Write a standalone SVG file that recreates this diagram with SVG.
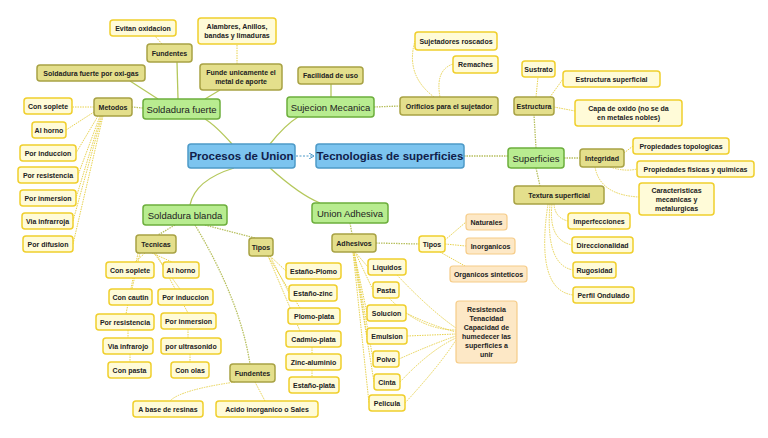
<svg xmlns="http://www.w3.org/2000/svg" width="768" height="438" viewBox="0 0 768 438">
<style>
text{font-family:"Liberation Sans",Arial,sans-serif;font-size:7px;font-weight:bold;fill:#222;text-anchor:middle}
.b rect{fill:#7cc4ef;stroke:#4d9ac8;stroke-width:1.5}
.b text{font-size:11.5px;fill:#10204a}
.g rect{fill:#b8ec90;stroke:#6cae3c;stroke-width:1.5}
.g text{font-size:9.5px;font-weight:normal}
.o rect{fill:#e4df8c;stroke:#a8a244;stroke-width:1.5}
.y rect{fill:#fffbd8;stroke:#f0cf2c;stroke-width:1.5}
.p rect{fill:#fde8c6;stroke:#f6cc88;stroke-width:1.2}
.c path{fill:none;stroke:#e8d24e;stroke-width:1;stroke-dasharray:1.5 1}
.c .s{stroke:#b5c85c;stroke-width:1.3;stroke-dasharray:none}
.c .d{stroke:#b8c060;stroke-width:1.3;stroke-dasharray:1.5 1}
.c .f{stroke:#4d9ac8;stroke-width:1;stroke-dasharray:2 1.5}
</style>
<defs><marker id="a" markerWidth="6" markerHeight="6" refX="5" refY="3" orient="auto"><path d="M0,0 L5,3 L0,6" fill="none" stroke="#4d9ac8"/></marker></defs>
<g class="c">
<path class="f" d="M296,156 L314,156" marker-end="url(#a)"/>
<path class="s" d="M232,144 Q215,125 205,119"/>
<path class="s" d="M270,144 Q285,125 298,117"/>
<path class="s" d="M234,168 Q195,180 190,205"/>
<path class="s" d="M270,168 Q300,195 320,203"/>
<path class="d" d="M464,156 L508,156"/>
<path class="s" d="M178,99 L177,62"/>
<path class="s" d="M158,99 L130,81"/>
<path class="s" d="M205,99 L220,90"/>
<path class="d" d="M143,108 L132,107"/>
<path d="M162,44 L155,36"/><path d="M237,64 L237,44"/>
<path d="M94,107 L72,107"/><path d="M94,112 L66,130"/><path d="M98,116 L76,153"/><path d="M100,116 L78,175"/><path d="M101,116 L76,198"/><path d="M102,116 L73,221"/><path d="M103,116 L73,244"/>
<path class="s" d="M331,97 L331,84"/>
<path class="d" d="M374,107 L400,106"/>
<path d="M434,97 Q405,75 415,41"/><path d="M440,97 Q435,70 453,64"/>
<path class="d" d="M536,148 L534,115"/><path class="d" d="M564,158 L580,158"/><path class="d" d="M536,168 L540,186"/>
<path d="M536,97 L538,77"/><path d="M550,97 L563,79"/><path d="M554,107 L575,111"/>
<path d="M624,153 L633,146"/><path d="M610,167 Q625,172 637,169"/><path d="M595,167 Q600,195 639,197"/>
<path d="M554,204 Q555,218 568,221"/><path d="M552,204 Q548,240 572,245"/><path d="M550,204 Q545,265 573,270"/><path d="M548,204 Q535,290 573,295"/>
<path class="d" d="M175,225 L158,235"/><path class="d" d="M205,225 L255,238"/><path class="d" d="M195,225 Q240,300 250,364"/>
<path d="M145,253 L135,262"/><path d="M152,253 L172,262"/><path d="M140,253 L132,289"/><path d="M154,253 L180,289"/><path d="M138,253 L126,314"/><path d="M156,253 L188,313"/><path d="M128,330 L128,338"/><path d="M188,329 L188,338"/><path d="M130,354 L130,362"/><path d="M190,354 L190,362"/>
<path d="M270,256 L286,271"/><path d="M270,256 L289,293"/><path d="M268,256 L300,308"/><path d="M268,256 L300,331"/><path d="M312,347 L312,354"/><path d="M312,370 L312,377"/>
<path d="M235,382 Q180,390 170,401"/><path d="M255,382 L265,401"/>
<path class="d" d="M350,223 L352,234"/><path class="d" d="M376,243 L419,244"/>
<path d="M445,240 L466,222"/><path d="M445,244 L466,246"/><path d="M440,252 L465,266"/>
<path d="M355,252 L368,267"/><path d="M355,252 L373,290"/><path d="M354,252 L367,313"/><path d="M354,252 L367,336"/><path d="M354,252 L373,359"/><path d="M353,252 L374,382"/><path d="M353,252 L369,403"/>
<path d="M397,275 Q430,310 456,328"/><path d="M389,298 Q420,330 456,330"/><path d="M406,313 Q430,325 456,332"/><path d="M407,336 L456,334"/><path d="M399,359 Q430,345 456,336"/><path d="M400,382 Q430,350 456,338"/><path d="M405,403 Q440,365 456,340"/>
</g>
<g class="b" id="procesos"><rect x="188" y="144" width="107" height="24" rx="3"/><text x="241.5" y="160">Procesos de Union</text></g>
<g class="b" id="tecnologias"><rect x="316" y="144" width="148" height="24" rx="3"/><text x="390" y="160">Tecnologias de superficies</text></g>
<g class="g" id="sfuerte"><rect x="143" y="99" width="77" height="20" rx="3"/><text x="181.5" y="112.5">Soldadura fuerte</text></g>
<g class="g" id="sujecion"><rect x="287" y="97" width="87" height="20" rx="3"/><text x="330.5" y="110.5">Sujecion Mecanica</text></g>
<g class="g" id="sblanda"><rect x="143" y="205" width="84" height="20" rx="3"/><text x="185" y="218.5">Soldadura blanda</text></g>
<g class="g" id="uadhesiva"><rect x="312" y="203" width="76" height="20" rx="3"/><text x="350" y="216.5">Union Adhesiva</text></g>
<g class="g" id="superficies"><rect x="508" y="148" width="56" height="20" rx="3"/><text x="536" y="161.5">Superficies</text></g>
<g class="o" id="o1"><rect x="147" y="44" width="45" height="18" rx="3"/><text x="169.5" y="55.5">Fundentes</text></g>
<g class="o" id="o2"><rect x="37" y="65" width="108" height="16" rx="3"/><text x="91" y="75.5">Soldadura fuerte por oxi-gas</text></g>
<g class="o" id="o3"><rect x="200" y="64" width="82" height="26" rx="3"/><text x="241" y="75">Funde unicamente el</text><text x="241" y="84">metal de aporte</text></g>
<g class="o" id="o4"><rect x="94" y="98" width="38" height="18" rx="3"/><text x="113" y="109.5">Metodos</text></g>
<g class="o" id="o5"><rect x="298" y="67" width="65" height="17" rx="3"/><text x="330.5" y="78">Facilidad de uso</text></g>
<g class="o" id="o6"><rect x="400" y="97" width="98" height="18" rx="3"/><text x="449" y="108.5">Orificios para el sujetador</text></g>
<g class="o" id="o7"><rect x="514" y="97" width="40" height="18" rx="3"/><text x="534" y="108.5">Estructura</text></g>
<g class="o" id="o8"><rect x="580" y="149" width="44" height="18" rx="3"/><text x="602" y="160.5">Integridad</text></g>
<g class="o" id="o9"><rect x="514" y="186" width="90" height="18" rx="3"/><text x="559" y="197.5">Textura superficial</text></g>
<g class="o" id="o10"><rect x="136" y="235" width="40" height="18" rx="3"/><text x="156" y="246.5">Tecnicas</text></g>
<g class="o" id="o11"><rect x="249" y="238" width="24" height="18" rx="3"/><text x="261" y="249.5">Tipos</text></g>
<g class="o" id="o12"><rect x="230" y="364" width="45" height="18" rx="3"/><text x="252.5" y="375.5">Fundentes</text></g>
<g class="o" id="o13"><rect x="332" y="234" width="44" height="18" rx="3"/><text x="354" y="245.5">Adhesivos</text></g>
<g class="y" id="y1"><rect x="110" y="20" width="66" height="16" rx="3"/><text x="143" y="30.5">Evitan oxidacion</text></g>
<g class="y" id="y2"><rect x="198" y="18" width="78" height="26" rx="3"/><text x="237" y="29">Alambres, Anillos,</text><text x="237" y="38">bandas y limaduras</text></g>
<g class="y" id="y3"><rect x="24" y="98" width="48" height="16" rx="3"/><text x="48" y="108.5">Con soplete</text></g>
<g class="y" id="y4"><rect x="32" y="122" width="34" height="16" rx="3"/><text x="49" y="132.5">Al horno</text></g>
<g class="y" id="y5"><rect x="20" y="145" width="56" height="16" rx="3"/><text x="48" y="155.5">Por induccion</text></g>
<g class="y" id="y6"><rect x="18" y="167" width="60" height="16" rx="3"/><text x="48" y="177.5">Por resistencia</text></g>
<g class="y" id="y7"><rect x="20" y="190" width="56" height="16" rx="3"/><text x="48" y="200.5">Por inmersion</text></g>
<g class="y" id="y8"><rect x="22" y="213" width="51" height="16" rx="3"/><text x="47.5" y="223.5">Via infrarroja</text></g>
<g class="y" id="y9"><rect x="23" y="236" width="50" height="16" rx="3"/><text x="48" y="246.5">Por difusion</text></g>
<g class="y" id="y10"><rect x="415" y="32" width="82" height="18" rx="3"/><text x="456" y="43.5">Sujetadores roscados</text></g>
<g class="y" id="y11"><rect x="453" y="56" width="45" height="17" rx="3"/><text x="475.5" y="67">Remaches</text></g>
<g class="y" id="y12"><rect x="522" y="61" width="33" height="16" rx="3"/><text x="538.5" y="71.5">Sustrato</text></g>
<g class="y" id="y13"><rect x="563" y="71" width="97" height="16" rx="3"/><text x="611.5" y="81.5">Estructura superficial</text></g>
<g class="y" id="y14"><rect x="575" y="100" width="107" height="26" rx="3"/><text x="628.5" y="111">Capa de oxido (no se da</text><text x="628.5" y="120">en metales nobles)</text></g>
<g class="y" id="y15"><rect x="633" y="138" width="96" height="16" rx="3"/><text x="681" y="148.5">Propiedades topologicas</text></g>
<g class="y" id="y16"><rect x="637" y="161" width="117" height="16" rx="3"/><text x="695.5" y="171.5">Propiedades fisicas y quimicas</text></g>
<g class="y" id="y17"><rect x="639" y="183" width="75" height="32" rx="3"/><text x="676.5" y="193">Caracteristicas</text><text x="676.5" y="202">mecanicas y</text><text x="676.5" y="211">metalurgicas</text></g>
<g class="y" id="y18"><rect x="568" y="213" width="62" height="16" rx="3"/><text x="599" y="223.5">Imperfecciones</text></g>
<g class="y" id="y19"><rect x="572" y="237" width="61" height="16" rx="3"/><text x="602.5" y="247.5">Direccionalidad</text></g>
<g class="y" id="y20"><rect x="573" y="262" width="43" height="16" rx="3"/><text x="594.5" y="272.5">Rugosidad</text></g>
<g class="y" id="y21"><rect x="573" y="287" width="61" height="16" rx="3"/><text x="603.5" y="297.5">Perfil Ondulado</text></g>
<g class="y" id="y22"><rect x="106" y="262" width="48" height="16" rx="3"/><text x="130" y="272.5">Con soplete</text></g>
<g class="y" id="y23"><rect x="163" y="262" width="36" height="16" rx="3"/><text x="181" y="272.5">Al horno</text></g>
<g class="y" id="y24"><rect x="109" y="289" width="43" height="16" rx="3"/><text x="130.5" y="299.5">Con cautin</text></g>
<g class="y" id="y25"><rect x="158" y="289" width="55" height="16" rx="3"/><text x="185.5" y="299.5">Por induccion</text></g>
<g class="y" id="y26"><rect x="96" y="314" width="58" height="16" rx="3"/><text x="125" y="324.5">Por resistencia</text></g>
<g class="y" id="y27"><rect x="161" y="313" width="55" height="16" rx="3"/><text x="188.5" y="323.5">Por inmersion</text></g>
<g class="y" id="y28"><rect x="103" y="338" width="50" height="16" rx="3"/><text x="128" y="348.5">Via infrarojo</text></g>
<g class="y" id="y29"><rect x="161" y="338" width="60" height="16" rx="3"/><text x="191" y="348.5">por ultrasonido</text></g>
<g class="y" id="y30"><rect x="108" y="362" width="43" height="16" rx="3"/><text x="129.5" y="372.5">Con pasta</text></g>
<g class="y" id="y31"><rect x="171" y="362" width="38" height="16" rx="3"/><text x="190" y="372.5">Con olas</text></g>
<g class="y" id="y32"><rect x="133" y="401" width="70" height="16" rx="3"/><text x="168" y="411.5">A base de resinas</text></g>
<g class="y" id="y33"><rect x="216" y="401" width="102" height="16" rx="3"/><text x="267" y="411.5">Acido inorganico o Sales</text></g>
<g class="y" id="y34"><rect x="286" y="263" width="55" height="16" rx="3"/><text x="313.5" y="273.5">Estaño-Plomo</text></g>
<g class="y" id="y35"><rect x="289" y="285" width="48" height="16" rx="3"/><text x="313" y="295.5">Estaño-zinc</text></g>
<g class="y" id="y36"><rect x="288" y="308" width="52" height="16" rx="3"/><text x="314" y="318.5">Plomo-plata</text></g>
<g class="y" id="y37"><rect x="286" y="331" width="55" height="16" rx="3"/><text x="313.5" y="341.5">Cadmio-plata</text></g>
<g class="y" id="y38"><rect x="286" y="354" width="55" height="16" rx="3"/><text x="313.5" y="364.5">Zinc-aluminio</text></g>
<g class="y" id="y39"><rect x="289" y="377" width="50" height="16" rx="3"/><text x="314" y="387.5">Estaño-plata</text></g>
<g class="y" id="y40"><rect x="368" y="259" width="38" height="16" rx="3"/><text x="387" y="269.5">Liquidos</text></g>
<g class="y" id="y41"><rect x="373" y="282" width="26" height="16" rx="3"/><text x="386" y="292.5">Pasta</text></g>
<g class="y" id="y42"><rect x="367" y="305" width="39" height="16" rx="3"/><text x="386.5" y="315.5">Solucion</text></g>
<g class="y" id="y43"><rect x="367" y="328" width="40" height="16" rx="3"/><text x="387" y="338.5">Emulsion</text></g>
<g class="y" id="y44"><rect x="373" y="351" width="26" height="16" rx="3"/><text x="386" y="361.5">Polvo</text></g>
<g class="y" id="y45"><rect x="374" y="374" width="26" height="16" rx="3"/><text x="387" y="384.5">Cinta</text></g>
<g class="y" id="y46"><rect x="369" y="395" width="36" height="16" rx="3"/><text x="387" y="405.5">Pelicula</text></g>
<g class="y" id="y47"><rect x="419" y="236" width="26" height="16" rx="3"/><text x="432" y="246.5">Tipos</text></g>
<g class="p" id="p1"><rect x="466" y="214" width="41" height="16" rx="3"/><text x="486.5" y="224.5">Naturales</text></g>
<g class="p" id="p2"><rect x="466" y="238" width="49" height="16" rx="3"/><text x="490.5" y="248.5">Inorganicos</text></g>
<g class="p" id="p3"><rect x="450" y="266" width="77" height="16" rx="3"/><text x="488.5" y="276.5">Organicos sinteticos</text></g>
<g class="p" id="p4"><rect x="456" y="301" width="61" height="62" rx="3"/><text x="486.5" y="312">Resistencia</text><text x="486.5" y="321">Tenacidad</text><text x="486.5" y="330">Capacidad de</text><text x="486.5" y="339">humedecer las</text><text x="486.5" y="348">superficies a</text><text x="486.5" y="357">unir</text></g>
</svg>
